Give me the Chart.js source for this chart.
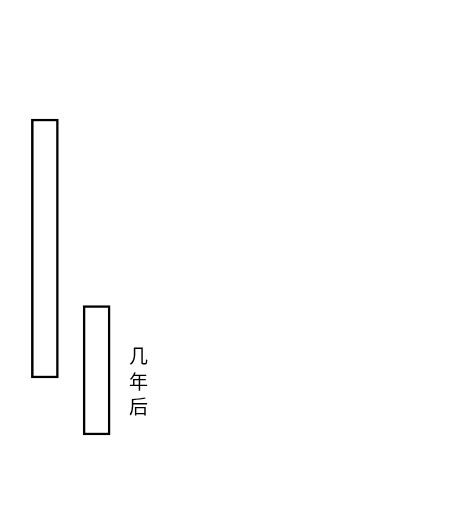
<!DOCTYPE html>
<html>
<head>
<meta charset="utf-8">
<script src="https://cdn.jsdelivr.net/npm/chart.js@4"></script>
<style>
  html, body { margin: 0; padding: 0; background: #ffffff; }
  #wrap { width: 474px; height: 520px; position: relative; }
</style>
</head>
<body>
<div id="wrap"><canvas id="c"></canvas></div>
<script>
// Data
const categories = ['现在', '几年后'];
const barLows = [142, 85];
const barHighs = [401, 214.5];
const annotationText = ['', '几年后'];

const floating = categories.map((c, i) => [barLows[i], barHighs[i]]);

const verticalLabelPlugin = {
  id: 'verticalLabel',
  afterDatasetsDraw(chart) {
    const ctx = chart.ctx;
    const meta = chart.getDatasetMeta(0);
    ctx.save();
    ctx.fillStyle = '#000000';
    ctx.font = '19px "Noto Sans CJK SC", sans-serif';
    ctx.textAlign = 'center';
    ctx.textBaseline = 'middle';
    meta.data.forEach((bar, i) => {
      const txt = annotationText[i];
      if (!txt) return;
      const x = bar.x + 42;
      const startY = bar.y + 50.5;
      Array.from(txt).forEach((ch, k) => {
        ctx.fillText(ch, x, startY + k * 25.5);
      });
    });
    ctx.restore();
  }
};

new Chart(document.getElementById('c'), {
  type: 'bar',
  data: {
    labels: categories,
    datasets: [{
      data: floating,
      backgroundColor: '#ffffff',
      borderColor: '#000000',
      borderWidth: 2.5,
      borderSkipped: false,
      barThickness: 27
    }]
  },
  options: {
    responsive: true,
    maintainAspectRatio: false,
    animation: false,
    layout: { padding: { left: 19, right: 351.5, top: 0, bottom: 0 } },
    plugins: { legend: { display: false }, tooltip: { enabled: false } },
    scales: {
      x: { display: false, offset: true },
      y: { display: false, min: 0, max: 520 }
    }
  },
  plugins: [verticalLabelPlugin]
});
</script>
</body>
</html>
